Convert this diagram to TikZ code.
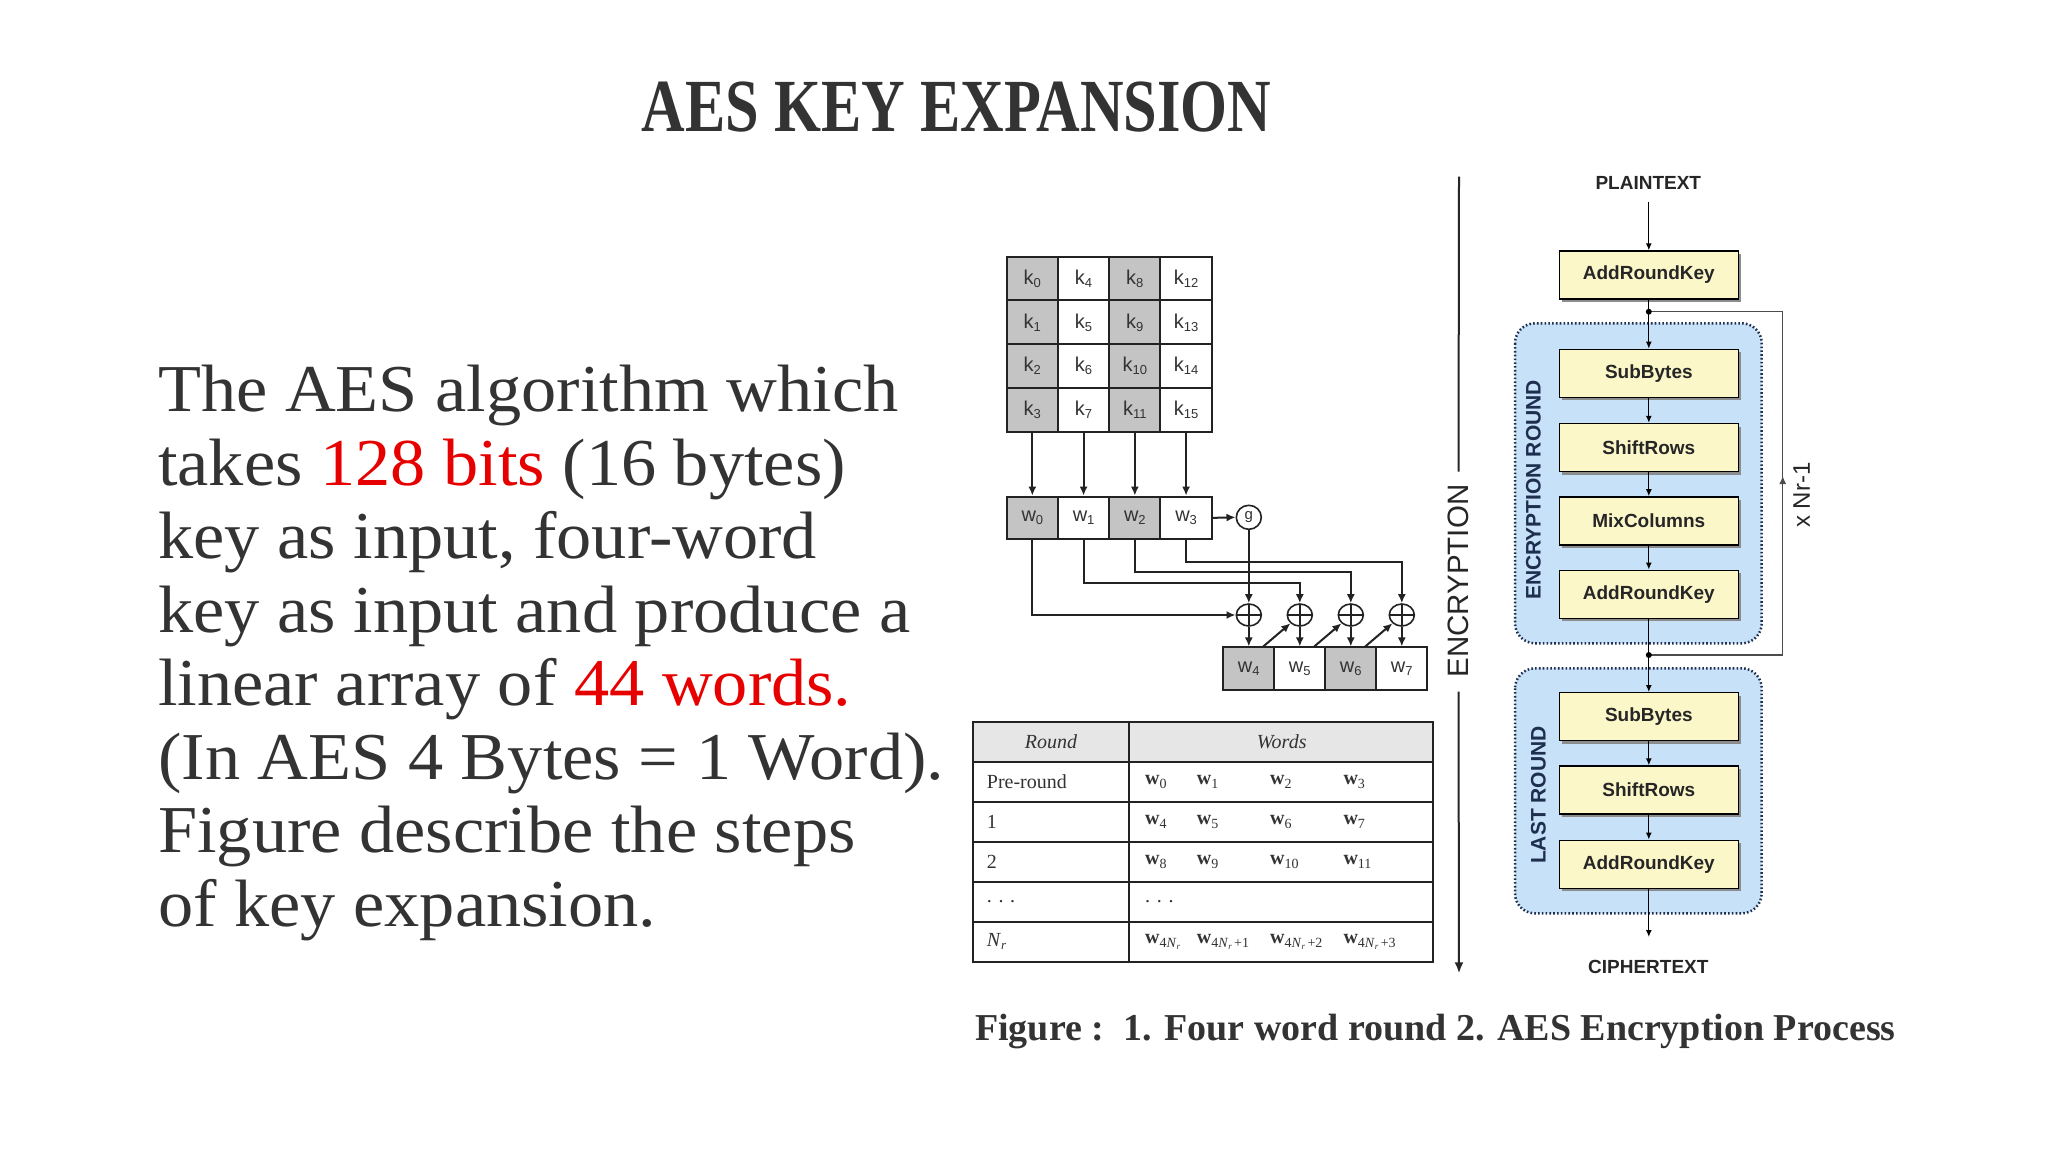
\documentclass[tikz,border=0pt]{standalone}
\usepackage{fontspec}
\usepackage{graphicx}
\setmainfont{Liberation Serif}
\setsansfont{Liberation Sans}
\newfontfamily\bodyfont[FakeStretch=1.05]{Liberation Serif}
\newfontfamily\titlefont[FakeStretch=0.805]{Liberation Serif}
\newfontfamily\capfont{Liberation Serif}
\usetikzlibrary{arrows.meta,shapes.geometric,calc,shadows}
\definecolor{txtc}{HTML}{333333}
\definecolor{redt}{HTML}{E60000}
\definecolor{linec}{HTML}{222222}
\definecolor{kgray}{HTML}{C4C4C4}
\definecolor{hdrgray}{HTML}{E6E6E6}
\definecolor{boxy}{HTML}{FBF7C9}
\definecolor{roundblue}{HTML}{C7E1F8}
\definecolor{navy}{HTML}{1E2E4E}
\newcommand\ksub[1]{\raisebox{-3pt}{\fontsize{13}{13}\selectfont #1}}
\newcommand\wsub[1]{\textbf{w}\raisebox{-4pt}{\fontsize{14}{14}\selectfont #1}}
\newcommand\nrsub{\textit{N}\raisebox{-2pt}{\fontsize{9}{9}\selectfont\textit{r}}}
\tikzset{
  kcell/.style={draw=linec, line width=2pt, minimum width=51.25pt, minimum height=43.75pt, inner sep=0pt, font=\sffamily\fontsize{20}{20}\selectfont, text=txtc},
  wcell/.style={draw=linec, line width=2pt, minimum width=51pt, minimum height=42.5pt, inner sep=0pt, font=\sffamily\fontsize{20}{20}\selectfont, text=txtc},
  kar/.style={line width=2pt, draw=linec, -{Latex[length=9pt,width=8pt]}},
  kline/.style={line width=2pt, draw=linec},
  xorn/.style={ellipse, draw=linec, line width=1.6pt, minimum width=25pt, minimum height=22pt, inner sep=0pt,
    path picture={\draw[line width=1.4pt, linec] (path picture bounding box.north) -- (path picture bounding box.south) (path picture bounding box.west) -- (path picture bounding box.east);}},
  tbtxt/.style={font=\fontsize{20}{20}\selectfont, text=txtc, inner sep=0pt, anchor=west},
  rbox/.style={draw=black, line width=1.3pt, fill=boxy, minimum width=179pt, minimum height=48pt, inner sep=0pt,
    font=\sffamily\bfseries\fontsize{19}{19}\selectfont, text=black!85,
    drop shadow={shadow xshift=3pt, shadow yshift=-3pt, fill=black!45, opacity=1}},
  rar/.style={line width=1.3pt, draw=black, -{Latex[length=7pt,width=6pt]}},
  rnd/.style={draw=navy, line width=2.5pt, dash pattern=on 1.6pt off 2.2pt, fill=roundblue, rounded corners=20pt},
  rlabel/.style={rotate=90, font=\sffamily\bfseries\fontsize{21}{21}\selectfont, text=navy, inner sep=0pt},
}
\begin{document}
\begin{tikzpicture}[x=1pt, y=-1pt]
\useasboundingbox (0,0) rectangle (2048,1152);
\fill[white] (0,0) rectangle (2048,1152);

% Title
\node[anchor=base, inner sep=0pt, text=txtc, font=\titlefont\bfseries\fontsize{75}{75}\selectfont] (title) at (956.5,131) {AES KEY EXPANSION};

% Body text
\begin{scope}[every node/.style={anchor=base west, inner sep=0pt, text=txtc, font=\bodyfont\fontsize{67}{67}\selectfont}]
\node (l1) at (158,411.7) {The AES algorithm which};
\node (l2) at (158,485.2) {takes \textcolor{redt}{128 bits} (16 bytes)};
\node (l3) at (158,558.7) {key as input, four-word};
\node (l4) at (158,632.2) {key as input and produce a};
\node (l5) at (158,705.7) {linear array of \textcolor{redt}{44 words.}};
\node (l6) at (158,779.2) {(In AES 4 Bytes = 1 Word).};
\node (l7) at (158,852.7) {Figure describe the steps};
\node (l8) at (158,926.2) {of key expansion.};
\end{scope}

% Key grid
\foreach \c in {0,...,3}{
  \foreach \r in {0,...,3}{
    \pgfmathtruncatemacro\k{4*\c+\r}
    \pgfmathsetmacro\xx{1006.7+51.25*(\c+0.5)}
    \pgfmathsetmacro\yy{256.7+43.75*(\r+0.5)}
    \ifodd\c\def\fc{white}\else\def\fc{kgray}\fi
    \node[kcell, fill=\fc] (k\k) at (\xx,\yy) {k\ksub{\k}};
  }
}
% Word row w0..w3
\foreach \c in {0,...,3}{
  \pgfmathsetmacro\xx{1006.7+51.25*(\c+0.5)}
  \ifodd\c\def\fc{white}\else\def\fc{kgray}\fi
  \node[wcell, minimum width=51.25pt, fill=\fc] (w\c) at (\xx,517.85) {w\ksub{\c}};
}
% Word row w4..w7
\foreach \c in {0,...,3}{
  \pgfmathtruncatemacro\n{\c+4}
  \pgfmathsetmacro\xx{1248.8+51*\c}
  \ifodd\c\def\fc{white}\else\def\fc{kgray}\fi
  \node[wcell, fill=\fc] (w\n) at (\xx,668.7) {w\ksub{\n}};
}
% arrows key -> words
\foreach \c in {0,...,3}{
  \pgfmathtruncatemacro\k{4*\c+3}
  \draw[kar] (k\k.south) -- (w\c.north);
}
% g function
\node[ellipse, draw=linec, line width=1.6pt, minimum width=25pt, minimum height=24pt, inner sep=0pt, font=\sffamily\fontsize{15}{15}\selectfont, text=txtc] (g) at (1248.8,517.3) {g};
\draw[kar] (w3.east) -- (g.west);
% XORs
\node[xorn] (x1) at (1248.8,615) {};
\node[xorn] (x2) at (1299.8,615) {};
\node[xorn] (x3) at (1350.8,615) {};
\node[xorn] (x4) at (1401.8,615) {};
\coordinate (b1) at (1299.8,582.7);
\coordinate (b2) at (1350.8,572.3);
\coordinate (b3) at (1401.8,561.7);
\draw[kar] (g.south) -- (x1.north);
\draw[kar] (w0.south) |- (x1.west);
\draw[kar] (w1.south) |- (b1) -- (x2.north);
\draw[kar] (w2.south) |- (b2) -- (x3.north);
\draw[kar] (w3.south) |- (b3) -- (x4.north);
\draw[kar] (x1.south) -- (w4.north);
\draw[kar] (x2.south) -- (w5.north);
\draw[kar] (x3.south) -- (w6.north);
\draw[kar] (x4.south) -- (w7.north);
\draw[kar] ($(w4.north)+(14.5,0)$) -- (x2.south west);
\draw[kar] ($(w5.north)+(14.5,0)$) -- (x3.south west);
\draw[kar] ($(w6.north)+(14.5,0)$) -- (x4.south west);

% Table
\fill[hdrgray] (972.7,721.7) rectangle (1433.3,761.7);
\draw[kline] (972.7,721.7) rectangle (1433.3,961.7);
\draw[kline] (1129.3,721.7) -- (1129.3,961.7);
\foreach \yy in {761.7,801.7,841.7,881.7,921.7}{
  \draw[kline] (972.7,\yy) -- (1433.3,\yy);
}
\node[tbtxt, anchor=center, font=\itshape\fontsize{20}{20}\selectfont] (thr) at (1051,741.7) {Round};
\node[tbtxt, anchor=center, font=\itshape\fontsize{20}{20}\selectfont] (thw) at (1281.7,741.7) {Words};
\node[tbtxt] (r1) at (986.7,781.7) {Pre-round};
\node[tbtxt] (r2) at (986.7,821.7) {1};
\node[tbtxt] (r3) at (986.7,861.7) {2};
\node[tbtxt] (r4) at (986.7,901.7) {.\,\,.\,\,.};
\node[tbtxt] (r5) at (986.7,941.7) {\textit{N}\raisebox{-3pt}{\fontsize{13}{13}\selectfont\textit{r}}};
\node[tbtxt] (a0) at (1145,781.7) {\wsub{0}};
\node[tbtxt] (a1) at (1196.7,781.7) {\wsub{1}};
\node[tbtxt] (a2) at (1270,781.7) {\wsub{2}};
\node[tbtxt] (a3) at (1343.3,781.7) {\wsub{3}};
\node[tbtxt] (a4) at (1145,821.7) {\wsub{4}};
\node[tbtxt] (a5) at (1196.7,821.7) {\wsub{5}};
\node[tbtxt] (a6) at (1270,821.7) {\wsub{6}};
\node[tbtxt] (a7) at (1343.3,821.7) {\wsub{7}};
\node[tbtxt] (a8) at (1145,861.7) {\wsub{8}};
\node[tbtxt] (a9) at (1196.7,861.7) {\wsub{9}};
\node[tbtxt] (a10) at (1270,861.7) {\wsub{10}};
\node[tbtxt] (a11) at (1343.3,861.7) {\wsub{11}};
\node[tbtxt] (ad) at (1145,901.7) {.\,\,.\,\,.};
\node[tbtxt] (n0) at (1145,941.7) {\wsub{4\nrsub}};
\node[tbtxt] (n1) at (1196.7,941.7) {\wsub{4\nrsub\,+1}};
\node[tbtxt] (n2) at (1270,941.7) {\wsub{4\nrsub\,+2}};
\node[tbtxt] (n3) at (1343.3,941.7) {\wsub{4\nrsub\,+3}};

% Caption
\node[anchor=base west, inner sep=0pt, text=txtc, font=\capfont\bfseries\fontsize{38}{38}\selectfont] (cap) at (975,1040) {Figure :\ \ 1. Four word round 2. AES Encryption Process};

% ENCRYPTION axis
\node[rotate=90, inner sep=11pt, font=\sffamily\fontsize{29.5}{29.5}\selectfont, text=black!85] (enc) at (1458.5,581) {ENCRYPTION};
\coordinate (et) at (1459,176.7);
\coordinate (eb) at (1459,973.3);
\draw[line width=2pt, black!85] (et) -- (enc.east |- 0,471.7);
\draw[line width=2pt, black!85, -{Latex[length=11pt,width=9pt]}] (enc.west |- 0,691.7) -- (eb);

% Round containers
\draw[rnd] (1515,323.3) rectangle (1761.7,643.3);
\draw[rnd] (1515,668.3) rectangle (1761.7,913.3);
\node[rlabel] (erl) at (1533.3,490) {ENCRYPTION ROUND};
\node[rlabel] (lrl) at (1538.3,795) {LAST ROUND};

% Boxes
\node[font=\sffamily\bfseries\fontsize{19}{19}\selectfont, text=black!85, inner sep=2pt] (pt) at (1648.3,182.7) {PLAINTEXT};
\node[rbox] (ark1) at (1648.8,275) {AddRoundKey};
\node[rbox] (sb1) at (1648.8,373.3) {SubBytes};
\node[rbox] (sr1) at (1648.8,447.5) {ShiftRows};
\node[rbox] (mc1) at (1648.8,520.85) {MixColumns};
\node[rbox] (ark2) at (1648.8,594.15) {AddRoundKey};
\node[rbox] (sb2) at (1648.8,716.7) {SubBytes};
\node[rbox] (sr2) at (1648.8,790) {ShiftRows};
\node[rbox] (ark3) at (1648.8,864.2) {AddRoundKey};
\node[font=\sffamily\bfseries\fontsize{19}{19}\selectfont, text=black!85, inner sep=2pt] (ct) at (1648.3,966.7) {CIPHERTEXT};

\coordinate (j1) at (1648.8,311.7);
\coordinate (j2) at (1648.8,655);
\coordinate (ptb) at (1648.8,201.7);
\coordinate (cte) at (1648.8,937);
\coordinate (lt) at (1782.7,311.7);
\coordinate (lb) at (1782.7,655);
\coordinate (lm) at (1782.7,476);

\draw[rar] (ptb) -- (ark1.north);
\draw[line width=1.3pt] (ark1.south) -- (j1);
\draw[rar] (j1) -- (sb1.north);
\draw[rar] (sb1.south) -- (sr1.north);
\draw[rar] (sr1.south) -- (mc1.north);
\draw[rar] (mc1.south) -- (ark2.north);
\draw[line width=1.3pt] (ark2.south) -- (j2);
\draw[rar] (j2) -- (sb2.north);
\draw[rar] (sb2.south) -- (sr2.north);
\draw[rar] (sr2.south) -- (ark3.north);
\draw[rar] (ark3.south) -- (cte);
% loop
\draw[line width=1.3pt, black!70] (j2) -- (lb) -- (lt) -- (j1);
\draw[line width=1.3pt, black!70, -{Latex[length=8pt,width=7pt]}] (lb) -- (lm);
\fill[black] (j1) circle (3pt);
\fill[black] (j2) circle (3pt);
\node[rotate=90, font=\sffamily\fontsize{24}{24}\selectfont, text=black!85, inner sep=0pt] (nr) at (1801.7,495) {x Nr-1};
\end{tikzpicture}
\end{document}
